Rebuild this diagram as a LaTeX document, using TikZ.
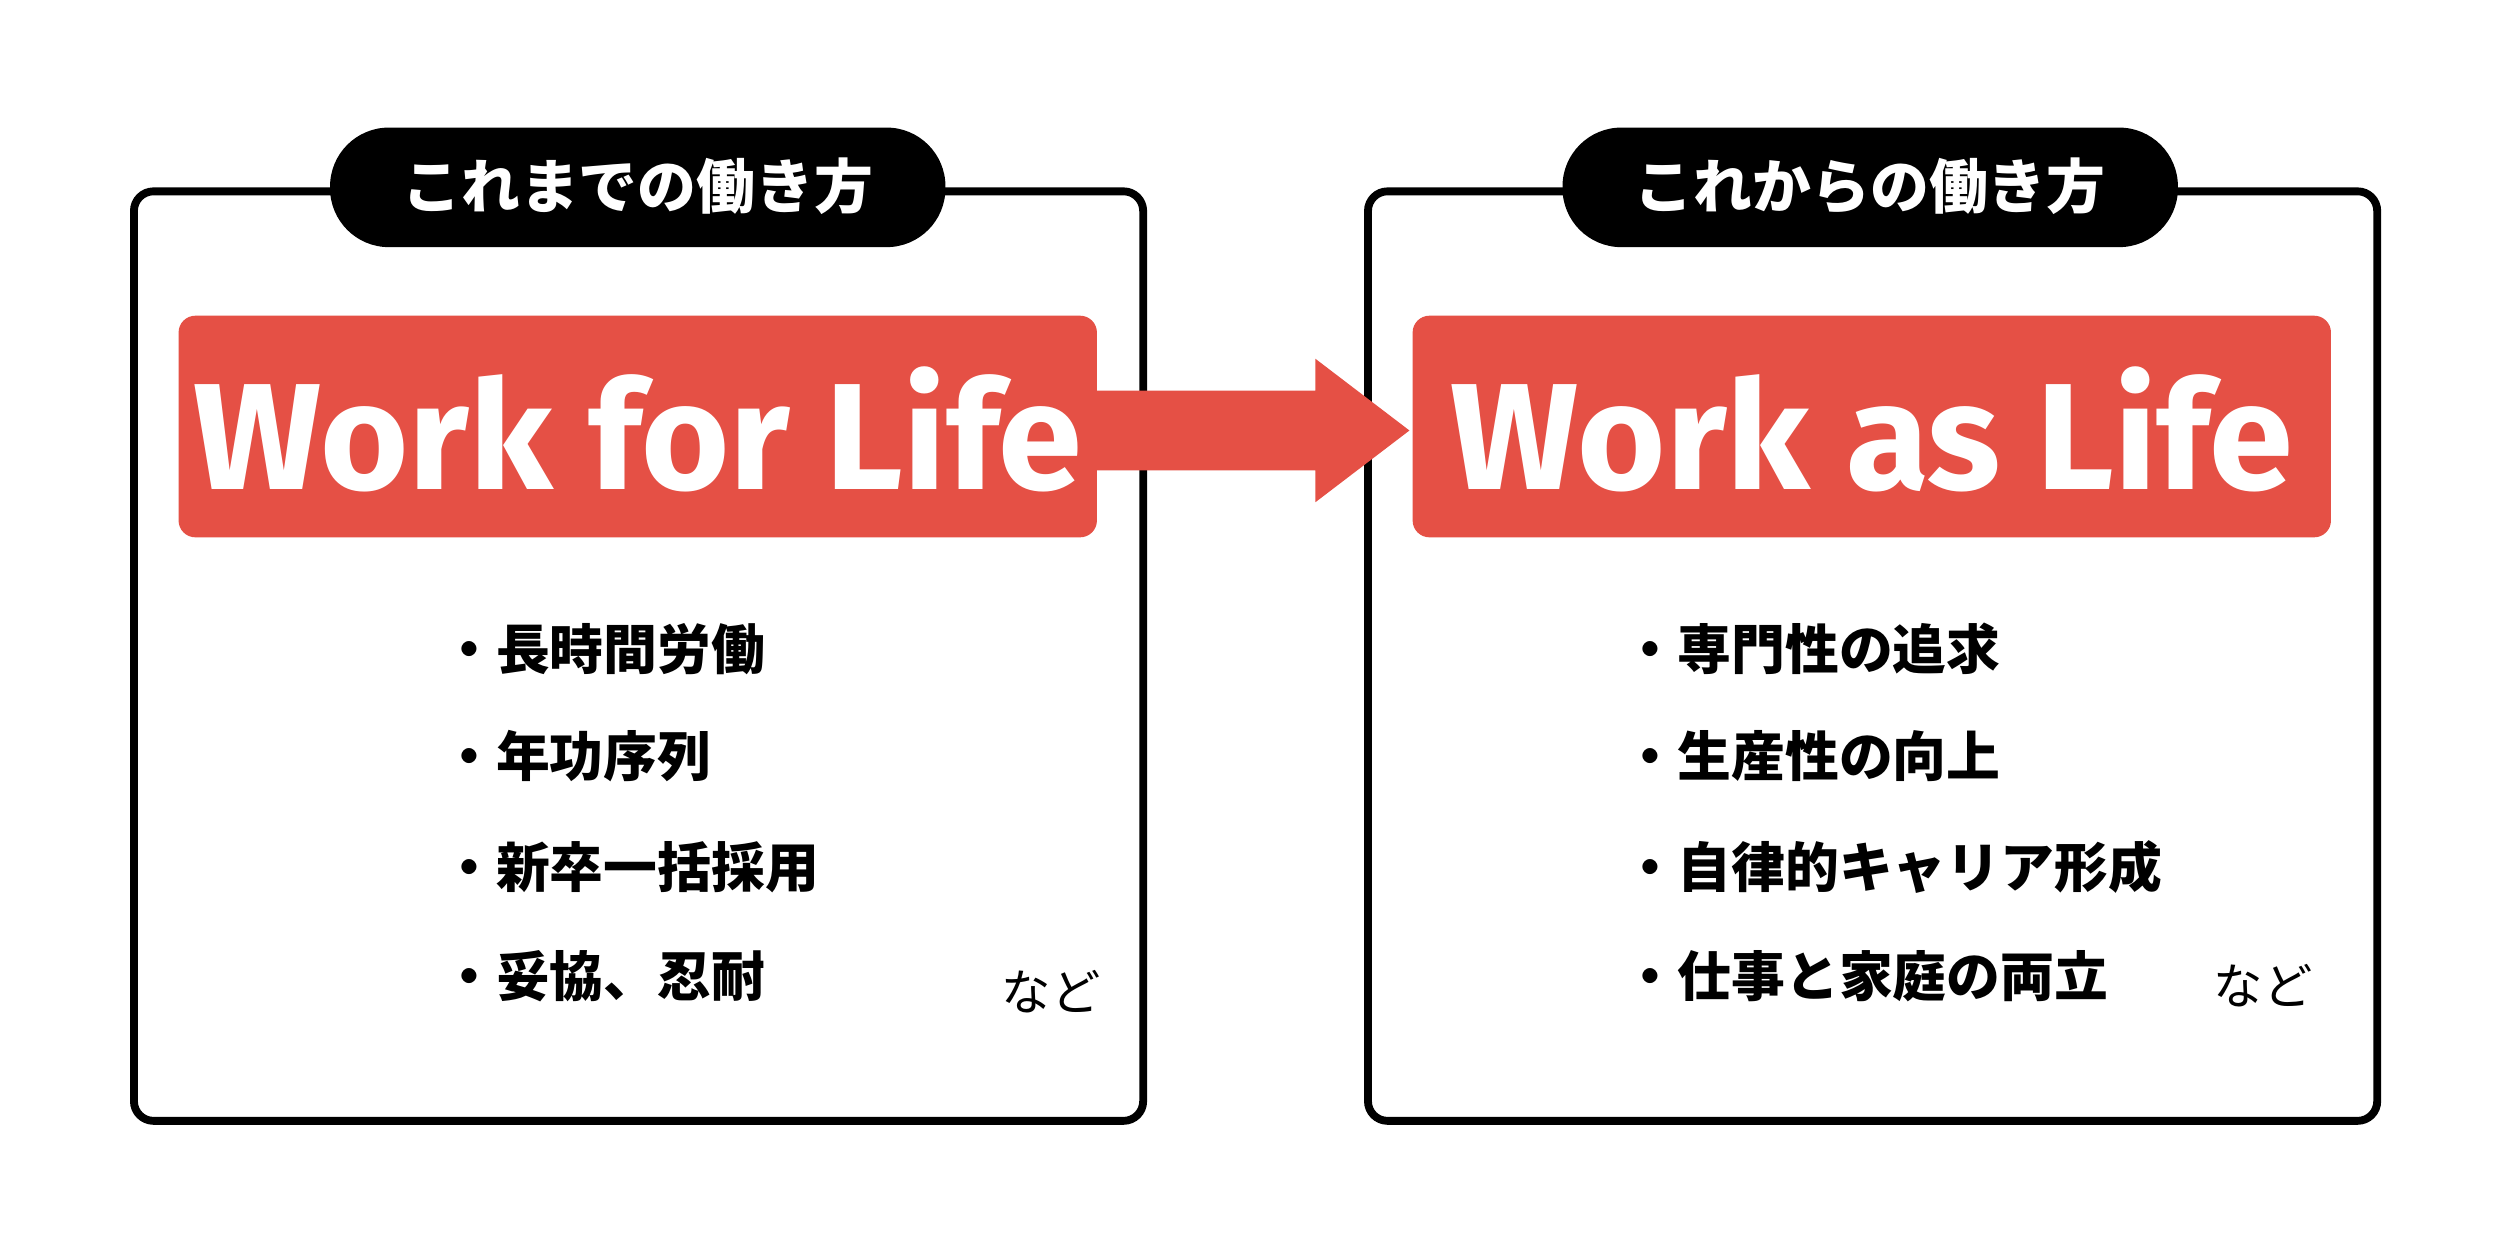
\documentclass[tikz,border=0pt]{standalone}
\usepackage{fontspec}
\newfontfamily\cjk{Noto Sans CJK JP}
\newfontfamily\fira{Fira Sans}
\definecolor{wred}{HTML}{E55045}
\begin{document}
\begin{tikzpicture}[x=0.01cm,y=-0.01cm]
\tikzset{
 frame/.style={draw=black,line width=1.4pt,rounded corners=3.5pt,fill=white},
 pill/.style={fill=black,rounded corners=10.5pt},
 pilltext/.style={text=white,font=\cjk\bfseries\fontsize{10.5}{12}\selectfont},
 redbox/.style={fill=wred,rounded corners=3pt},
 bigtext/.style={text=white,font=\fira\bfseries\fontsize{27}{30}\selectfont},
 item/.style={anchor=west,font=\cjk\bfseries\fontsize{9.6}{11}\selectfont},
 etc/.style={anchor=west,font=\cjk\fontsize{8.8}{10}\selectfont}
}
\useasboundingbox (0,0) rectangle (1568,784);
\fill[white] (0,0) rectangle (1568,784);
% left
\draw[frame] (84,120) rectangle (717,703);
\fill[pill] (207,80) rectangle (593,155);
\node[pilltext] (lt) at (400,117) {これまでの働き方};
\fill[redbox] (112,198) rectangle (688,337);
\node[bigtext] (lw) at (400,269) {Work for Life};
% right
\draw[frame] (858,120) rectangle (1491,703);
\fill[pill] (980,80) rectangle (1366,155);
\node[pilltext] (rt) at (1173,117) {これからの働き方};
\fill[redbox] (886,198) rectangle (1462,337);
\node[bigtext] (rw) at (1174,269) {Work as Life};
% arrow
\coordinate (a0) at (688,245);
\fill[wred] (688,245) -- (825,245) -- (825,225) -- (884,270) -- (825,315) -- (825,295) -- (688,295) -- cycle;
% items
\node[item] (l1) at (265,407) {・長時間労働};
\node[item] (l2) at (265,474) {・年功序列};
\node[item] (l3) at (265,544) {・新卒一括採用};
\node[item] (l4) at (265,612) {・妥協、忍耐};
\node[etc] (le) at (616,622) {など};
\node[item] (r1) at (1006,407) {・専門性の追求};
\node[item] (r2) at (1006,474) {・生産性の向上};
\node[item] (r3) at (1006,544) {・自律的キャリア形成};
\node[item] (r4) at (1006,612) {・仕事と家庭の両立};
\node[etc] (re) at (1376,618) {など};
\end{tikzpicture}
\end{document}
